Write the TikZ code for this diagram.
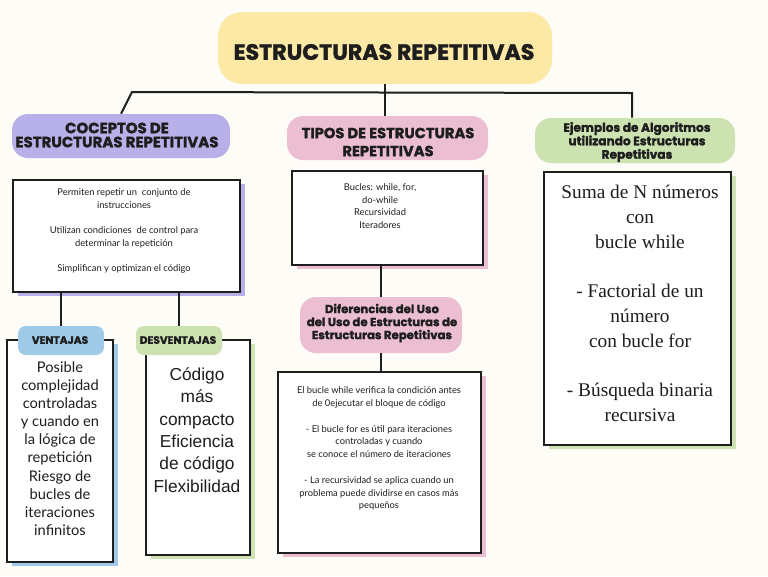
\documentclass[tikz,border=0pt]{standalone}
\usepackage{fontspec}
\setmainfont{Lato}
\newfontfamily\hfont{Poppins}[BoldFeatures={FakeBold=1.6}]
\newfontfamily\arialfont{Liberation Sans}
\newfontfamily\serfont{Liberation Serif}
\usetikzlibrary{fit,shadows}
\definecolor{bgc}{RGB}{253,252,247}
\definecolor{yellowc}{RGB}{251,233,165}
\definecolor{purplec}{RGB}{184,176,232}
\definecolor{pinkc}{RGB}{235,190,210}
\definecolor{greenc}{RGB}{204,227,177}
\definecolor{bluec}{RGB}{158,202,232}
\definecolor{linec}{RGB}{30,30,30}
\begin{document}
\begin{tikzpicture}[x=0.75pt,y=-0.75pt,
  blob/.style={fill=#1, draw=none, rounded corners=10pt, inner sep=0pt},
  boxst/.style={fill=white, draw=linec, line width=1.8pt, inner sep=0pt,
    general shadow={fill=#1, shadow xshift=3.5pt, shadow yshift=-3pt}},
  tagst/.style={blob=#1, rounded corners=6pt},
  conn/.style={draw=linec, line width=1.5pt},
  txt/.style={align=center, inner sep=0pt, text=linec},
  htxt/.style={txt, font=\hfont\bfseries\fontsize{#1}{1.25*#1}\selectfont}
]
\useasboundingbox[fill=bgc] (0,0) rectangle (768,576);

% title
\node (title) [blob=yellowc, rounded corners=18pt, fit={(218,12)(552,84)}] {};
\node (titleT) [txt, font=\hfont\bfseries\fontsize{16.6}{18}\selectfont] at (384,52) {ESTRUCTURAS REPETITIVAS};

% level-1 blobs
\node (conc) [blob=purplec, rounded corners=12pt, fit={(12,114)(230,158)}] {};
\node (concT) [txt, font=\hfont\bfseries\fontsize{11.2}{10.5}\selectfont] at (117,135) {COCEPTOS DE\\ESTRUCTURAS REPETITIVAS};
\node (tipos) [blob=pinkc, rounded corners=12pt, fit={(287,116)(488,160)}] {};
\node (tiposT) [txt, font=\hfont\bfseries\fontsize{11}{13.5}\selectfont] at (388,142) {TIPOS DE ESTRUCTURAS\\REPETITIVAS};
\node (ejem) [blob=greenc, rounded corners=12pt, fit={(535,118)(735,163)}] {};
\node (ejemT) [txt, font=\hfont\bfseries\fontsize{9.1}{10.1}\selectfont] at (637,142) {Ejemplos de Algoritmos\\utilizando Estructuras\\Repetitivas};

% boxes
\node (cbox) [boxst=purplec, fit={(13,180)(240,292)}] {};
\node (tbox) [boxst=pinkc, fit={(292,171)(483,265)}] {};
\node (dbox) [boxst=pinkc, fit={(278,372)(481,553)}] {};
\node (ebox) [boxst=greenc, fit={(544,172)(731,445)}] {};
\node (vbox) [boxst=bluec, fit={(7,340)(113,562)}] {};
\node (dvbox) [boxst=greenc, fit={(146,340)(250,555)}] {};

% tags
\node (ven) [tagst=bluec, fit={(18,326)(104,355)}] {};
\node (venT) [txt, font=\hfont\bfseries\fontsize{8}{9}\selectfont] at (60,340) {VENTAJAS};
\node (desv) [tagst=greenc, fit={(136,326)(222,355)}] {};
\node (desvT) [txt, font=\hfont\bfseries\fontsize{8}{9}\selectfont] at (178,340) {DESVENTAJAS};
\node (dif) [blob=pinkc, rounded corners=12pt, fit={(300,297)(462,353)}] {};
\node (difT) [txt, font=\hfont\bfseries\fontsize{8.75}{9.75}\selectfont] at (382,323) {Diferencias del Uso\\del Uso de Estructuras de\\Estructuras Repetitivas};

% texts
\node (ctx) [txt, font=\fontsize{7}{9.75}\selectfont] at (124,231)
  {Permiten repetir un\ \ conjunto de\\instrucciones\\[9pt]Utilizan condiciones\ \ de control para\\determinar la repetición\\[9pt]Simplifican y optimizan el código};
\node (ttx) [txt, font=\fontsize{7}{9.5}\selectfont] at (380,206)
  {Bucles: while, for,\\do-while\\Recursividad\\Iteradores};
\node (dtx) [txt, font=\fontsize{7}{9.5}\selectfont] at (379,448.5)
  {El bucle while verifica la condición antes\\de 0ejecutar el bloque de código\\[10pt]- El bucle for es útil para iteraciones\\controladas y cuando\\se conoce el número de iteraciones\\[10pt]- La recursividad se aplica cuando un\\problema puede dividirse en casos más\\pequeños};
\node (vtx) [txt, font=\fontsize{11}{13.6}\selectfont] at (60,448.5)
  {Posible\\complejidad\\controladas\\y cuando en\\la lógica de\\repetición\\Riesgo de\\bucles de\\iteraciones\\infinitos};
\node (dvtx) [txt, font=\arialfont\fontsize{13}{16.8}\selectfont] at (197,430)
  {Código\\más\\compacto\\Eficiencia\\de código\\Flexibilidad};
\node (etx) [txt, font=\serfont\fontsize{14.5}{18.6}\selectfont] at (640,303.5)
  {Suma de N números\\con\\bucle while\\[18.6pt]- Factorial de un\\número\\con bucle for\\[18.6pt]- Búsqueda binaria\\recursiva};

% connectors
\coordinate (barL) at (132,92);
\coordinate (barR) at (632,93);
\draw[conn] (title.south) -- (title.south |- tipos.north);
\draw[conn] (conc.north) -- (barL) -- (barR) -- (barR |- ejem.north);
\draw[conn] (cbox.south -| ven.north) -- (ven.north);
\draw[conn] (cbox.south -| desv.north) -- (desv.north);
\draw[conn] (tbox.south -| dif.north) -- (dif.north);
\draw[conn] (dif.south) -- (dif.south |- dbox.north);
\end{tikzpicture}
\end{document}
